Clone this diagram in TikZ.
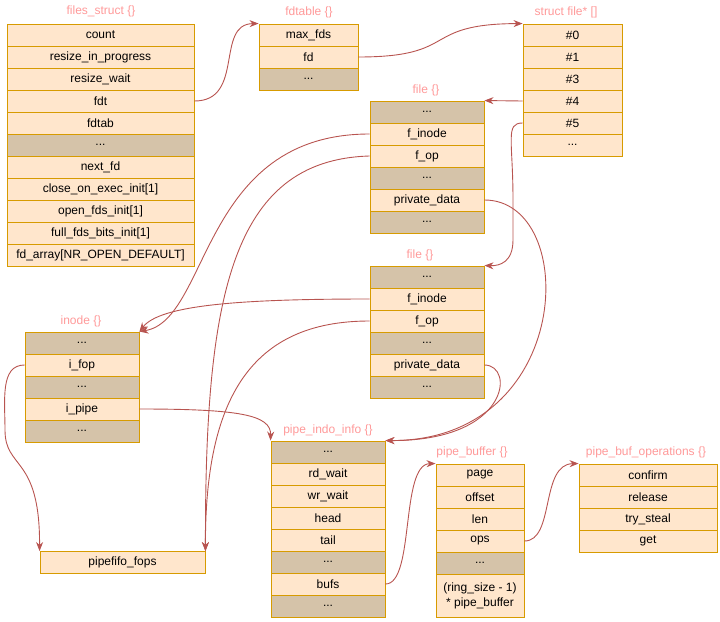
\documentclass[tikz,border=0pt]{standalone}
\usepackage{fontspec}
\setmainfont{Liberation Sans}
\usetikzlibrary{arrows.meta}
\definecolor{lf}{HTML}{FFE6CC}
\definecolor{df}{HTML}{D5C3A9}
\definecolor{st}{HTML}{D79B00}
\definecolor{ttl}{HTML}{FF9999}
\definecolor{ar}{HTML}{B85450}
\newcommand\dd{...}
\tikzset{
 lt/.style={draw=st,fill=lf,line width=0.9pt,inner sep=0pt,minimum height=22pt,font=\fontsize{12}{14}\selectfont},
 dk/.style={lt,fill=df},
 ttlstyle/.style={text=ttl,font=\fontsize{12}{14}\selectfont},
 con/.style={draw=ar,line width=0.9pt,-{Stealth[length=9pt,width=7pt]}}
}
\newcommand\structbox[5]{%
 \foreach[count=\k] \t/\s in {#5} {\node[\s,minimum width=#3] (#1-\k) at (#2,{#4+11+(\k-1)*22}) {\t};}}
\begin{document}
\begin{tikzpicture}[x=1pt,y=-1pt]
\useasboundingbox (0,0) rectangle (720,621);
% titles
\node[ttlstyle] (t1) at (101,11) {files\_struct \{\}};
\node[ttlstyle] (t2) at (309,12) {fdtable \{\}};
\node[ttlstyle] (t3) at (566,12) {struct file* []};
\node[ttlstyle] (t4) at (426,90) {file \{\}};
\node[ttlstyle] (t5) at (420,255) {file \{\}};
\node[ttlstyle] (t6) at (81,321) {inode \{\}};
\node[ttlstyle] (t7) at (328,430) {pipe\_indo\_info \{\}};
\node[ttlstyle] (t8) at (472,452) {pipe\_buffer \{\}};
\node[ttlstyle] (t9) at (646,452) {pipe\_buf\_operations \{\}};
% boxes
\structbox{fs}{100.5}{187pt}{24}{count/lt,resize\_in\_progress/lt,resize\_wait/lt,fdt/lt,fdtab/lt,\dd/dk,next\_fd/lt,close\_on\_exec\_init[1]/lt,open\_fds\_init[1]/lt,full\_fds\_bits\_init[1]/lt,fd\_array[NR\_OPEN\_DEFAULT]/lt}
\structbox{fdt}{308.5}{99pt}{24}{max\_fds/lt,fd/lt,\dd/dk}
\structbox{sf}{572.5}{99pt}{24}{\#0/lt,\#1/lt,\#3/lt,\#4/lt,\#5/lt,\dd/lt}
\structbox{fa}{427}{114pt}{101}{\dd/dk,f\_inode/lt,f\_op/lt,\dd/dk,private\_data/lt,\dd/dk}
\structbox{fb}{427}{114pt}{266}{\dd/dk,f\_inode/lt,f\_op/lt,\dd/dk,private\_data/lt,\dd/dk}
\structbox{in}{82}{114pt}{332}{\dd/dk,i\_fop/lt,\dd/dk,i\_pipe/lt,\dd/dk}
\node[lt,minimum width=165pt] (pf) at (122.5,562.5) {pipefifo\_fops};
\structbox{pi}{328}{114pt}{441}{\dd/dk,rd\_wait/lt,wr\_wait/lt,head/lt,tail/lt,\dd/dk,bufs/lt,\dd/dk}
\structbox{pb}{480}{88pt}{464}{page/lt,offset/lt,len/lt,ops/lt,\dd/dk}
\node[lt,minimum width=88pt,minimum height=43pt,align=center,font=\fontsize{12}{15}\selectfont] (pb-6) at (480,595.5) {(ring\_size - 1)\\* pipe\_buffer};
\structbox{po}{648}{138pt}{464}{confirm/lt,release/lt,try\_steal/lt,get/lt}
% connectors
\draw[con] (fs-4.east) .. controls (245,101) and (215,24) .. (fdt-1.north west);
\draw[con] (fdt-2.east) .. controls (460,57) and (420,24) .. (sf-1.north west);
\draw[con] (sf-4.west) -- (fa-1.north east);
\draw[con] (sf-5.west) .. controls (505,123) and (513,140) .. (513,200) -- (513,240) .. controls (513,262) and (500,266) .. (fb-1.north east);
\draw[con] (fa-2.west) .. controls (200,134) and (210,320) .. (in-1.north east);
\draw[con] (fb-2.west) .. controls (240,299) and (160,305) .. (in-1.north east);
\draw[con] (fa-3.west) .. controls (230,160) and (205,300) .. (pf.north east);
\draw[con] (fb-3.west) .. controls (250,321) and (205,400) .. (pf.north east);
\draw[con] (in-2.west) .. controls (0,365) and (5,400) .. (5,430) .. controls (5,470) and (40,455) .. (pf.north west);
\draw[con] (in-4.east) .. controls (240,409) and (271,415) .. (pi-1.north west);
\draw[con] (fa-5.east) .. controls (580,200) and (575,441) .. (pi-1.north east);
\draw[con] (fb-5.east) .. controls (515,365) and (510,441) .. (pi-1.north east);
\draw[con] (pi-7.east) .. controls (415,584) and (400,464) .. (pb-1.north west);
\draw[con] (pb-4.east) .. controls (555,541) and (540,464) .. (po-1.north west);
\end{tikzpicture}
\end{document}
